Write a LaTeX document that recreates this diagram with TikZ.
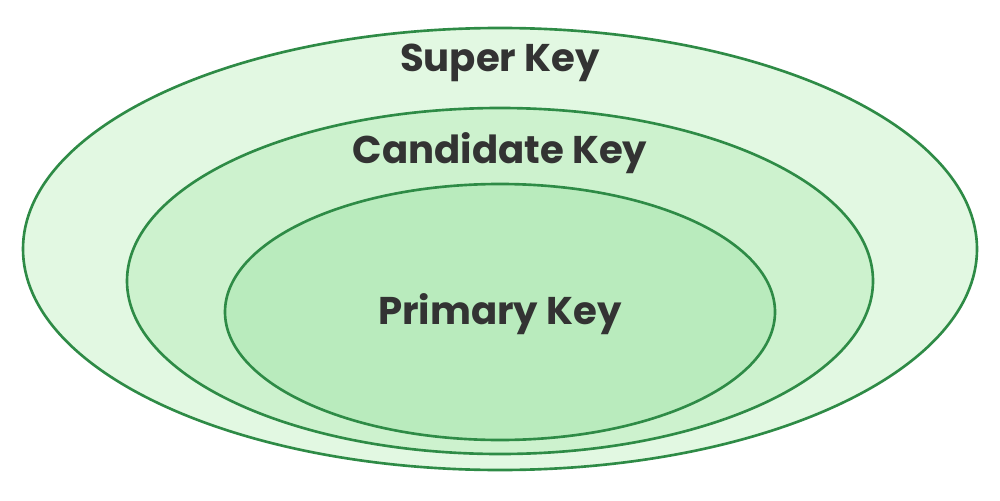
\documentclass[tikz,border=0pt]{standalone}
\usepackage{fontspec}
\setmainfont{Poppins}
\usetikzlibrary{positioning}
\definecolor{ringline}{HTML}{2E8B46}
\definecolor{superfill}{HTML}{E2F8E2}
\definecolor{candfill}{HTML}{CDF2CE}
\definecolor{primfill}{HTML}{B9EBBD}
\definecolor{keytext}{HTML}{333333}

\begin{document}
\begin{tikzpicture}[x=0.02cm, y=-0.02cm,
    ring/.style={draw=ringline, line width=1.5pt},
    keylabel/.style={font=\bfseries\fontsize{22}{26}\selectfont, text=keytext}]
  \useasboundingbox (0,0) rectangle (1000,500);
  \fill[white] (0,0) rectangle (1000,500);
  % nested sets
  \draw[ring, fill=superfill] (500,249) ellipse [x radius=477, y radius=221];
  \draw[ring, fill=candfill] (500,281) ellipse [x radius=373, y radius=173];
  \draw[ring, fill=primfill] (500,312) ellipse [x radius=275, y radius=128];
  % labels
  \node[keylabel] (super) at (500,63) {Super Key};
  \node[keylabel] (cand) at (500,153) {Candidate Key};
  \node[keylabel] (prim) at (500,314) {Primary Key};
\end{tikzpicture}
\end{document}
